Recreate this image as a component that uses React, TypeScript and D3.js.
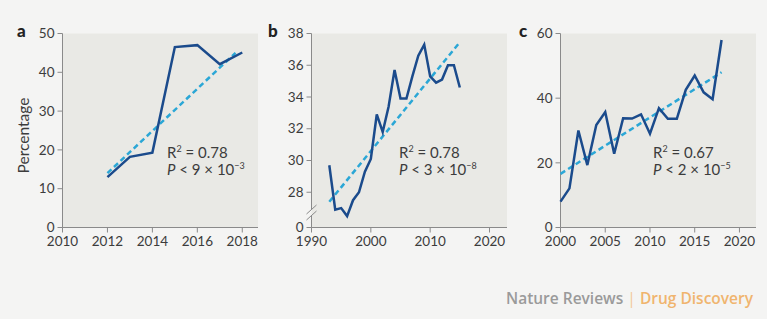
import React from "react";
import * as d3 from "d3";

// Panel a
const yearsA = [2012, 2013, 2014, 2015, 2016, 2017, 2018];
const valuesA = [13.0, 18.2, 19.3, 46.5, 47.0, 42.1, 45.1];
const trendA = [[2012, 14.0], [2017.7, 45.0]];
const xTicksA = [2010, 2012, 2014, 2016, 2018];
const yTicksA = [0, 10, 20, 30, 40, 50];

// Panel b
const yearsB = [1993, 1994, 1995, 1996, 1997, 1998, 1999, 2000, 2001, 2002, 2003, 2004, 2005, 2006, 2007, 2008, 2009, 2010, 2011, 2012, 2013, 2014, 2015];
const valuesB = [29.7, 26.9, 27.0, 26.5, 27.5, 28.0, 29.3, 30.1, 32.9, 31.8, 33.4, 35.7, 33.9, 33.9, 35.3, 36.6, 37.3, 35.3, 34.9, 35.1, 36.0, 36.0, 34.6];
const trendB = [[1993, 27.4], [2015, 37.45]];
const xTicksB = [1990, 2000, 2010, 2020];
const yTicksB = [0, 28, 30, 32, 34, 36, 38];

// Panel c
const yearsC = [2000, 2001, 2002, 2003, 2004, 2005, 2006, 2007, 2008, 2009, 2010, 2011, 2012, 2013, 2014, 2015, 2016, 2017, 2018];
const valuesC = [8.0, 12.1, 30.0, 19.3, 31.7, 35.7, 22.8, 33.8, 33.7, 35.0, 29.0, 36.9, 33.6, 33.6, 42.6, 47.0, 41.8, 39.7, 58.0];
const trendC = [[2000, 16.6], [2018, 48.0]];
const xTicksC = [2000, 2005, 2010, 2015, 2020];
const yTicksC = [0, 20, 40, 60];

const statsR = ["0.78", "0.78", "0.67"];
const statsP = [["9", "−3"], ["3", "−8"], ["2", "−5"]];
const letters = ["a", "b", "c"];

const W = 767;
const H = 319;
const TOP = 33.5;
const BOTTOM = 227.5;
const PW = 195.5;
const LEFTS = [62.5, 311.5, 560.5];

const FONT = "Lato, 'Open Sans', sans-serif";
const AXIS = "#8a8a8a";
const TEXT = "#3c3c3c";
const LINE = "#1b4b8c";
const DASH = "#2ba7d6";
const PLOTBG = "#e9e9e5";
const PAGEBG = "#f4f4f3";

type PanelProps = {
  idx: number;
  x: d3.ScaleLinear<number, number>;
  y: d3.ScaleLinear<number, number>;
  years: number[];
  values: number[];
  trend: number[][];
  xTicks: number[];
  yTicks: number[];
  brk?: boolean;
  ylabel?: string;
};

function Panel({ idx, x, y, years, values, trend, xTicks, yTicks, brk, ylabel }: PanelProps) {
  const left = LEFTS[idx];
  const right = left + PW;
  const line = d3
    .line<number>()
    .x((_, i) => x(years[i]))
    .y((d) => y(d));
  const tline = d3
    .line<number[]>()
    .x((d) => x(d[0]))
    .y((d) => y(d[1]));
  const annX = [167, 399, 653][idx];
  return (
    <g>
      <rect x={left} y={TOP} width={PW} height={BOTTOM - TOP} fill={PLOTBG} />
      <line x1={left} x2={right} y1={BOTTOM} y2={BOTTOM} stroke={AXIS} strokeWidth={1} />
      {brk ? (
        <g>
          <line x1={left} x2={left} y1={TOP} y2={209} stroke={AXIS} strokeWidth={1} />
          <line x1={left} x2={left} y1={216} y2={BOTTOM} stroke={AXIS} strokeWidth={1} />
          <line x1={left - 5} x2={left + 5} y1={214} y2={205} stroke={AXIS} strokeWidth={1} />
          <line x1={left - 5} x2={left + 5} y1={220} y2={211} stroke={AXIS} strokeWidth={1} />
        </g>
      ) : (
        <line x1={left} x2={left} y1={TOP} y2={BOTTOM} stroke={AXIS} strokeWidth={1} />
      )}
      {yTicks.map((t) => (
        <g key={"y" + t}>
          <line x1={left - 5} x2={left} y1={y(t)} y2={y(t)} stroke={AXIS} strokeWidth={1} />
          <text x={left - 8} y={y(t)} dy="0.35em" textAnchor="end" fontSize={13.5} fill={TEXT} fontFamily={FONT}>
            {t}
          </text>
        </g>
      ))}
      {xTicks.map((t) => (
        <g key={"x" + t}>
          <line x1={x(t)} x2={x(t)} y1={BOTTOM} y2={BOTTOM + 5} stroke={AXIS} strokeWidth={1} />
          <text x={x(t)} y={BOTTOM + 18} textAnchor="middle" fontSize={13.5} fill={TEXT} fontFamily={FONT}>
            {t}
          </text>
        </g>
      ))}
      <path d={tline(trend) || ""} fill="none" stroke={DASH} strokeWidth={2.5} strokeDasharray="5.5,3.5" />
      <path d={line(values) || ""} fill="none" stroke={LINE} strokeWidth={2.5} strokeLinejoin="miter" />
      <text x={[17, 268, 519][idx]} y={37} fontSize={17} fontWeight={900} fill="#222" fontFamily={FONT}>
        {letters[idx]}
      </text>
      <text x={annX} y={158} fontSize={15} fill={TEXT} fontFamily={FONT}>
        R<tspan dy={-6} fontSize={9}>2</tspan>
        <tspan dy={6}> = {statsR[idx]}</tspan>
      </text>
      <text x={annX} y={175} fontSize={15} fill={TEXT} fontFamily={FONT}>
        <tspan fontStyle="italic">P</tspan>
        <tspan>{" < " + statsP[idx][0] + " × 10"}</tspan>
        <tspan dy={-6} fontSize={9}>{statsP[idx][1]}</tspan>
      </text>
      {ylabel ? (
        <text
          transform={`translate(29,${(TOP + BOTTOM) / 2 + 5}) rotate(-90)`}
          textAnchor="middle"
          fontSize={15.5}
          fill={TEXT}
          fontFamily={FONT}
        >
          {ylabel}
        </text>
      ) : null}
    </g>
  );
}

export default function App() {
  const xA = d3.scaleLinear().domain([2010, 2018.7]).range([LEFTS[0], LEFTS[0] + PW]);
  const yA = d3.scaleLinear().domain([0, 50]).range([BOTTOM, TOP]);
  const xB = d3.scaleLinear().domain([1990, 2022.95]).range([LEFTS[1], LEFTS[1] + PW]);
  const yB = d3.scaleLinear().domain([0, 26, 38]).range([BOTTOM, 224, TOP]);
  const xC = d3.scaleLinear().domain([2000, 2021.85]).range([LEFTS[2], LEFTS[2] + PW]);
  const yC = d3.scaleLinear().domain([0, 60]).range([BOTTOM, TOP]);
  return (
    <div style={{ position: "fixed", left: 0, top: 0 }}>
      <svg width={W} height={H} style={{ display: "block" }}>
        <rect x={0} y={0} width={W} height={H} fill={PAGEBG} />
        <Panel idx={0} x={xA} y={yA} years={yearsA} values={valuesA} trend={trendA} xTicks={xTicksA} yTicks={yTicksA} ylabel="Percentage" />
        <Panel idx={1} x={xB} y={yB} years={yearsB} values={valuesB} trend={trendB} xTicks={xTicksB} yTicks={yTicksB} brk />
        <Panel idx={2} x={xC} y={yC} years={yearsC} values={valuesC} trend={trendC} xTicks={xTicksC} yTicks={yTicksC} />
        <text x={753} y={304} textAnchor="end" fontSize={15.5} fontWeight={600} fontFamily="'Open Sans', sans-serif">
          <tspan fill="#9a9a9a">Nature Reviews</tspan>
          <tspan fill="#f3c999" fontWeight={400}> | </tspan>
          <tspan fill="#f0b46e">Drug Discovery</tspan>
        </text>
      </svg>
    </div>
  );
}
